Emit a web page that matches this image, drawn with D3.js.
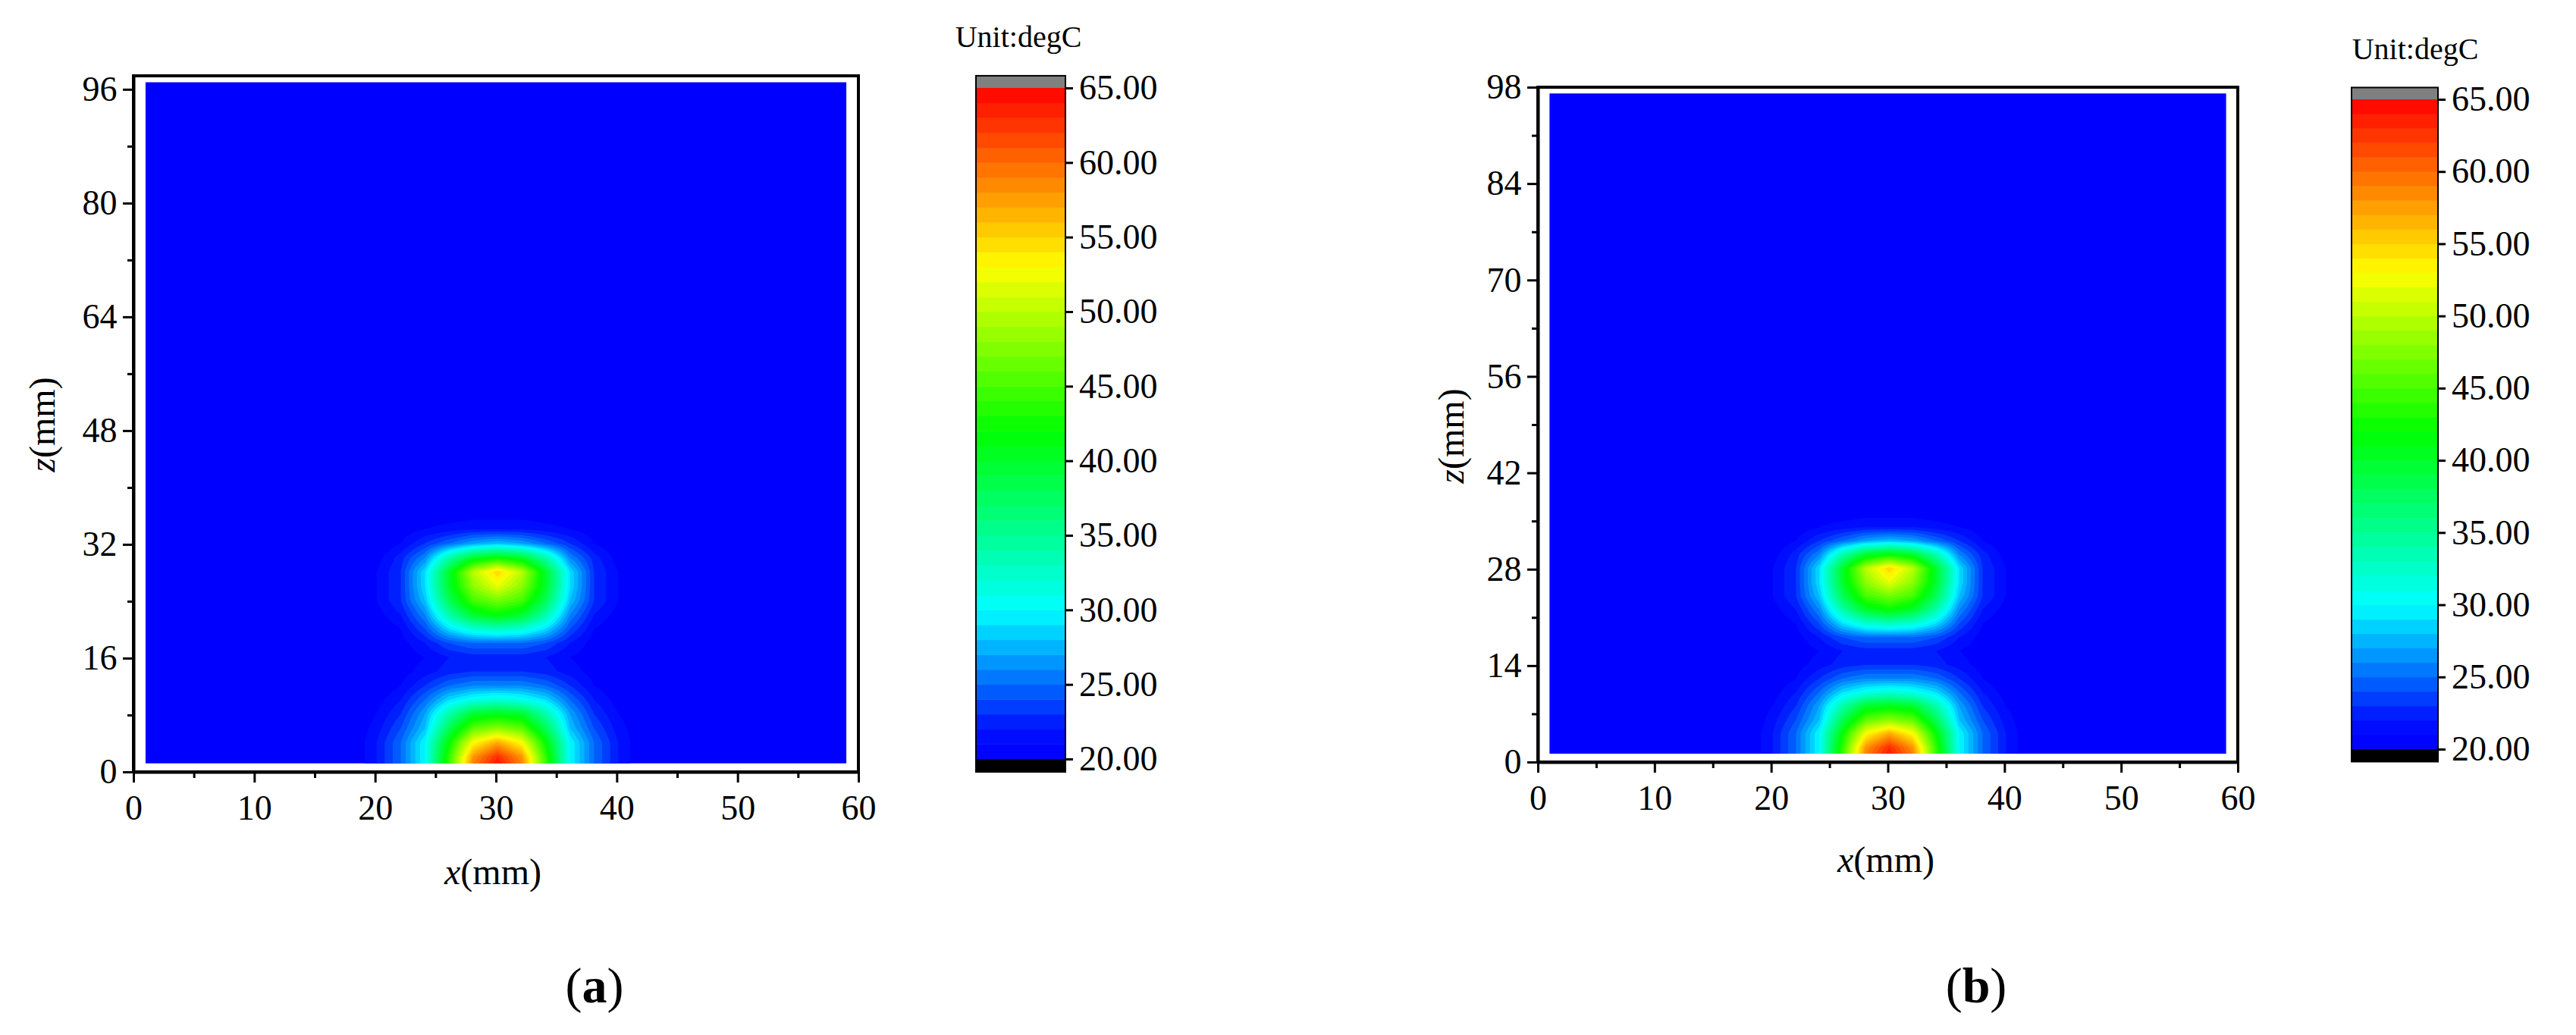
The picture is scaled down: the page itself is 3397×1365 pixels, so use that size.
<!DOCTYPE html><html><head><meta charset="utf-8"><script src="https://cdn.jsdelivr.net/npm/d3@7"></script>
<style>body{margin:0;background:#fff}svg text{font-family:"Liberation Serif","DejaVu Serif",serif !important}</style></head><body>
<svg id="c" width="3397" height="1365"></svg>
<script>
// Coarse temperature readings (degC): columns x, rows z
const gridX = [18,20,22,24,26,28,30,32,34,36,38,40,42];
const gridZ = [0,2,4,6,8,10,12,14,16,18,20,22,24,26,28,30,32,34,36];
const temps = [
 [20,22,25,30,45,60,65,60,45,30,25,22,20],
 [20,22,25,30,44,58,63,58,44,30,25,22,20],
 [20,22,25,30,42,53,57,53,42,30,25,22,20],
 [20,21.5,24,28,38,46,48,46,38,28,24,21.5,20],
 [20,21,23,27,34,40,41,40,34,27,23,21,20],
 [20,20.5,22,25,29,31,32,31,29,25,22,20.5,20],
 [20,20,21,23,25,26,26,26,25,23,21,20,20],
 [20,20,20.5,21.5,22.5,23,23,23,22.5,21.5,20.5,20,20],
 [20,20,20.3,21,22,22.5,22.5,22.5,22,21,20.3,20,20],
 [20,20,20.5,22,24,25,25,25,24,22,20.5,20,20],
 [20,20,21,24,29,32,33,32,29,24,21,20,20],
 [20,20.5,22,26,34,40,42,40,34,26,22,20.5,20],
 [20,21,23,28,38,45,47,45,38,28,23,21,20],
 [20,21,23,29,40,48,52,48,40,29,23,21,20],
 [20,21,23,29,40,50,55,50,40,29,23,21,20],
 [20,20.5,22.5,26,34,40,42,40,34,26,22.5,20.5,20],
 [20,20,21,23,25,27,28,27,25,23,21,20,20],
 [20,20,20.3,21,21.5,22,22,22,21.5,21,20.3,20,20],
 [20,20,20,20.2,20.3,20.5,20.5,20.5,20.3,20.2,20,20,20]
];
const xTicks = [0,10,20,30,40,50,60];
const zTicksA = [0,16,32,48,64,80,96];
const zTicksB = [0,14,28,42,56,70,84,98];
const cbTicks = [20,25,30,35,40,45,50,55,60,65];
const panelLabels = ["a","b"];

const svg = d3.select("#c");
const FF = '"Liberation Serif", serif';
const color = d3.scaleLinear().domain([20,22,30,42,53,65]).range(["#0000ff","#0010ff","#00ffff","#00ff00","#ffff00","#ff0000"]);

function tempAt(x,z){
  if(x<=gridX[0]||x>=gridX[gridX.length-1]||z>=gridZ[gridZ.length-1]) return 20;
  const i = d3.bisectRight(gridX,x)-1, j = Math.max(0,d3.bisectRight(gridZ,z)-1);
  const tx=(x-gridX[i])/(gridX[i+1]-gridX[i]), tz=(z-gridZ[j])/(gridZ[j+1]-gridZ[j]);
  const a=temps[j][i],b=temps[j][i+1],c=temps[j+1][i],d=temps[j+1][i+1];
  return (a*(1-tx)+b*tx)*(1-tz)+(c*(1-tx)+d*tx)*tz;
}
const step=0.25, nx=Math.round(60/step)+1, nz=Math.round(100/step)+1;
const vals=new Array(nx*nz);
for(let j=0;j<nz;j++)for(let i=0;i<nx;i++)vals[j*nx+i]=tempAt(i*step,j*step);
const thresholds=d3.range(21,65,1);
const contours=d3.contours().size([nx,nz]).thresholds(thresholds)(vals);

const panels=[
 {L:176,R:1132,B:1018,T:100,zMax:97.9,zTicks:zTicksA,minor:8,cbL:1287,cbR:1405,cbT:116,cbB:1001,unitX:1343,unitY:62,xlab:[650,1166],zlab:[72,560],plab:[784,1322]},
 {L:2028,R:2951,B:1005,T:115,zMax:98,zTicks:zTicksB,minor:7,cbL:3101,cbR:3215,cbT:131,cbB:988,unitX:3185,unitY:78,xlab:[2487,1150],zlab:[1930,575],plab:[2606,1322]}
];
panels.forEach((p,k)=>{
  const xs=d3.scaleLinear().domain([0,60]).range([p.L,p.R]);
  const zs=d3.scaleLinear().domain([0,p.zMax]).range([p.B,p.T]);
  const g=svg.append("g");
  const id="clip"+k;
  g.append("clipPath").attr("id",id).append("rect").attr("x",xs(1)).attr("y",zs(p.zMax-0.9)).attr("width",xs(59)-xs(1)).attr("height",zs(1.2)-zs(p.zMax-0.9));
  const fg=g.append("g").attr("clip-path",`url(#${id})`);
  fg.append("rect").attr("x",p.L).attr("y",p.T).attr("width",p.R-p.L).attr("height",p.B-p.T).attr("fill",color(20));
  const path=d3.geoPath(d3.geoTransform({point(x,y){this.stream.point(xs(x*step),zs(y*step));}}));
  fg.selectAll("path").data(contours).join("path").attr("d",path).attr("fill",d=>color(d.value+0.5));
  g.append("rect").attr("x",p.L).attr("y",p.T).attr("width",p.R-p.L).attr("height",p.B-p.T).attr("fill","none").attr("stroke","#000").attr("stroke-width",4);
  const xa=g.append("g").attr("transform",`translate(0,${p.B})`).call(d3.axisBottom(xs).tickValues(xTicks).tickSize(14).tickSizeOuter(0).tickFormat(d3.format("d")));
  g.append("g").attr("transform",`translate(0,${p.B})`).call(d3.axisBottom(xs).tickValues(d3.range(5,60,10)).tickSize(8).tickFormat("")).select(".domain").remove();
  const za=g.append("g").attr("transform",`translate(${p.L},0)`).call(d3.axisLeft(zs).tickValues(p.zTicks).tickSize(14).tickSizeOuter(0).tickFormat(d3.format("d")));
  g.append("g").attr("transform",`translate(${p.L},0)`).call(d3.axisLeft(zs).tickValues(p.zTicks.map(v=>v+p.minor).filter(v=>v<p.zMax)).tickSize(8).tickFormat("")).select(".domain").remove();
  g.selectAll("g").attr("font-family",FF);
  [xa,za].forEach(a=>{a.select(".domain").attr("stroke-width",4);a.selectAll(".tick text").attr("font-size",46);});
  g.selectAll(".tick line").attr("stroke-width",3);
  xa.selectAll(".tick text").attr("dy","1.0em");
  za.selectAll(".tick text").attr("dx","-0.1em");
  g.append("text").attr("font-family",FF).attr("x",p.xlab[0]).attr("y",p.xlab[1]).attr("text-anchor","middle").attr("font-size",48).html('<tspan font-style="italic">x</tspan>(mm)');
  g.append("text").attr("font-family",FF).attr("transform",`translate(${p.zlab[0]},${p.zlab[1]}) rotate(-90)`).attr("text-anchor","middle").attr("font-size",48).html('<tspan font-style="italic">z</tspan>(mm)');
  g.append("text").attr("font-family",FF).attr("x",p.plab[0]).attr("y",p.plab[1]).attr("text-anchor","middle").attr("font-size",66).html('(<tspan font-weight="bold">'+panelLabels[k]+'</tspan>)');
  const cs=d3.scaleLinear().domain([20,65]).range([p.cbB,p.cbT]);
  const cb=g.append("g");
  cb.selectAll("rect.band").data(d3.range(20,65,1)).join("rect").attr("class","band").attr("x",p.cbL).attr("width",p.cbR-p.cbL).attr("y",d=>cs(d+1)).attr("height",d=>cs(d)-cs(d+1)+0.5).attr("fill",d=>color(d+0.5));
  cb.append("rect").attr("x",p.cbL).attr("width",p.cbR-p.cbL).attr("y",cs(65)-(p.cbB-p.cbT)/55).attr("height",(p.cbB-p.cbT)/55).attr("fill","#808080");
  cb.append("rect").attr("x",p.cbL).attr("width",p.cbR-p.cbL).attr("y",cs(20)).attr("height",(p.cbB-p.cbT)/52).attr("fill","#000");
  cb.append("rect").attr("x",p.cbL).attr("width",p.cbR-p.cbL).attr("y",cs(65)-(p.cbB-p.cbT)/55).attr("height",(p.cbB-p.cbT)*(1+1/55+1/52)).attr("fill","none").attr("stroke","#000").attr("stroke-width",2);
  const ca=cb.append("g").attr("font-family",FF).attr("transform",`translate(${p.cbR},0)`).call(d3.axisRight(cs).tickValues(cbTicks).tickSize(10).tickFormat(d3.format(".2f")));
  ca.attr("font-family",FF);
  ca.select(".domain").remove();
  ca.selectAll(".tick line").attr("stroke-width",3);
  ca.selectAll(".tick text").attr("font-size",46).attr("x",18);
  cb.append("text").attr("font-family",FF).attr("x",p.unitX).attr("y",p.unitY).attr("text-anchor","middle").attr("font-size",40).text("Unit:degC");
});
</script></body></html>
